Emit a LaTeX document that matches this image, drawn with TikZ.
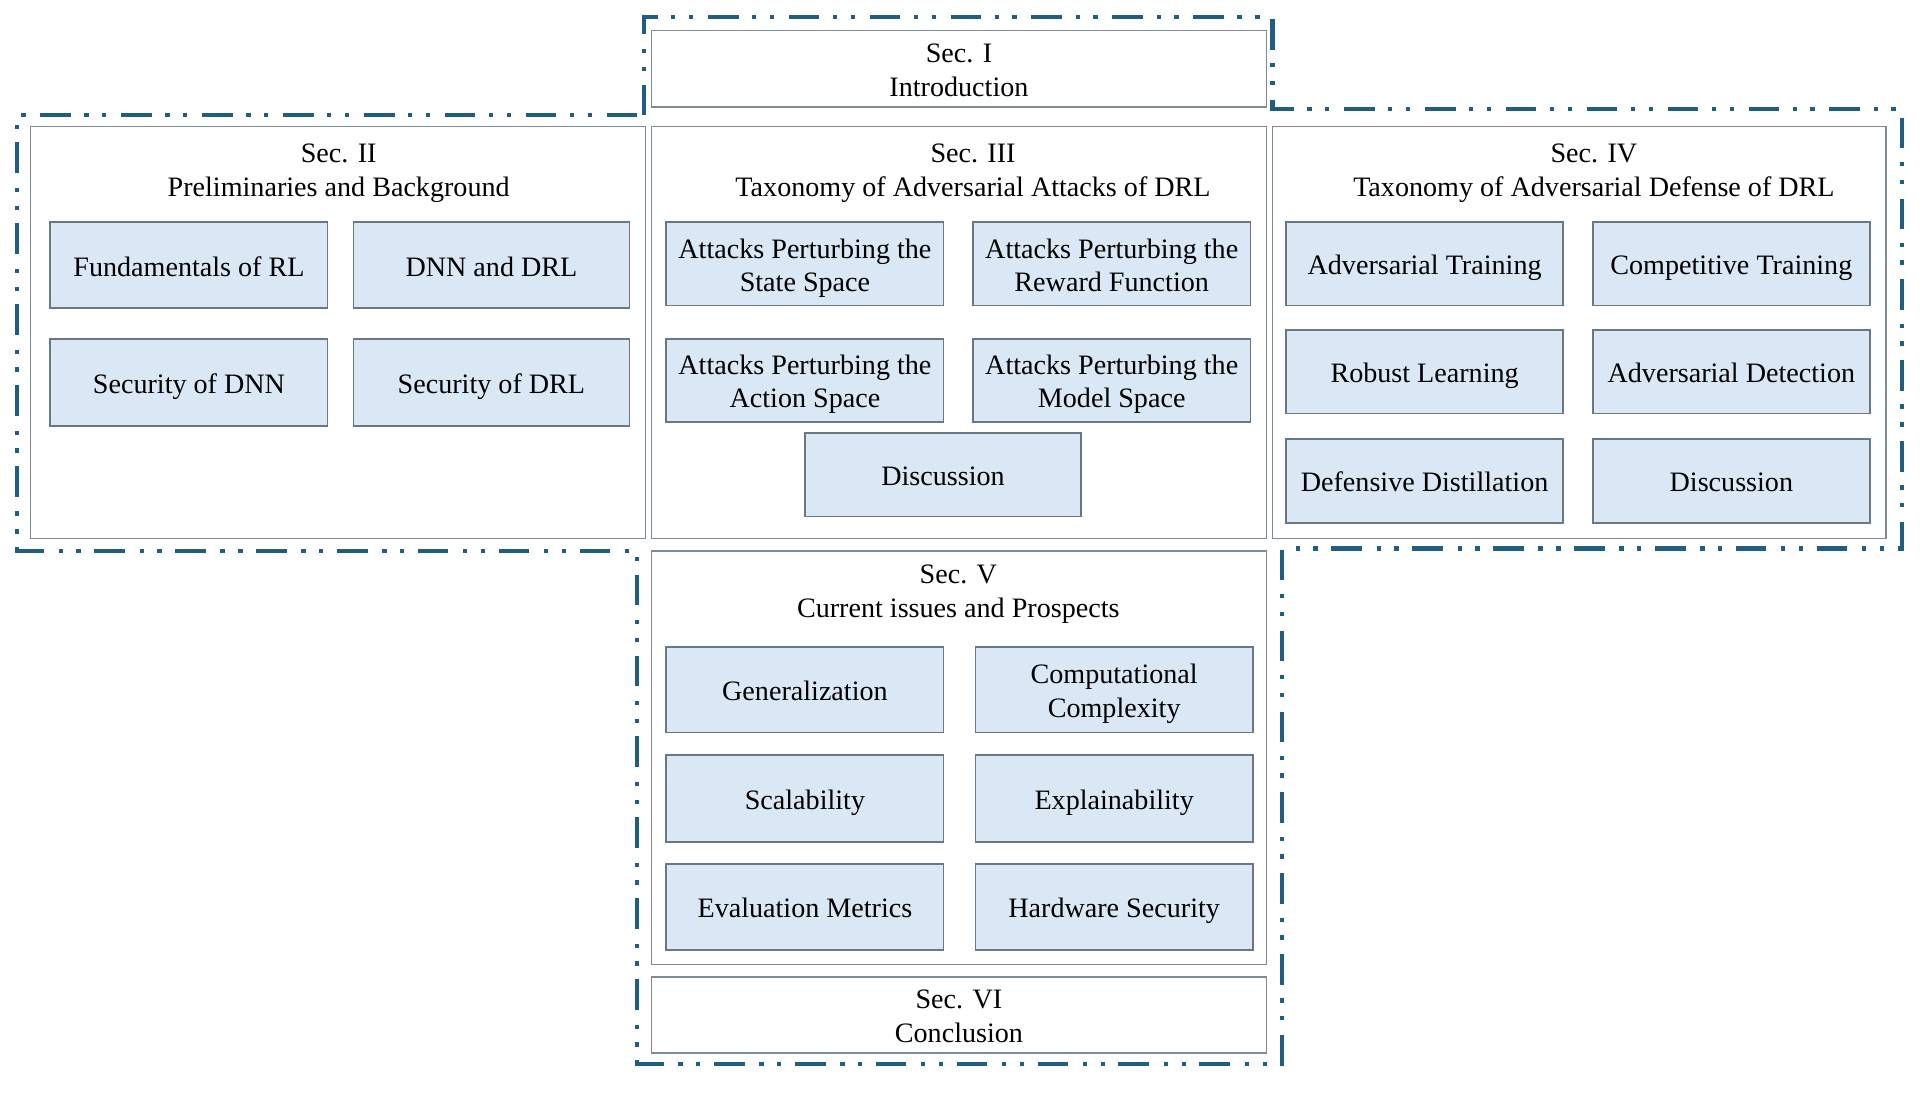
\documentclass[tikz,border=0pt]{standalone}
\usepackage{fontspec}
\setmainfont{Liberation Serif}
\definecolor{dashblue}{RGB}{31,94,128}
\definecolor{subfill}{RGB}{218,232,246}
\definecolor{subdraw}{RGB}{105,120,132}
\definecolor{secdraw}{RGB}{128,138,146}
\newcommand\topstrut{\rule{0pt}{16.5pt}}
\newcommand\botstrut{\rule[-3.8pt]{0pt}{3.8pt}}
\newcommand\mkbox[7]{\node[#1, minimum width={(#5-#3)*0.25mm}, minimum height={(#6-#4)*0.25mm}] (#2) at ({(#3+#5)/2},{(#4+#6)/2}) {\topstrut#7\botstrut};}
\tikzset{
  secbox/.style={draw=secdraw, line width=0.9pt, fill=white, inner sep=0pt, align=center, font=\fontsize{16.3}{19.9}\selectfont},
  subbox/.style={draw=subdraw, line width=1pt, fill=subfill, inner sep=0pt, align=center, font=\fontsize{16.3}{19.3}\selectfont},
  ttl/.style={inner sep=0pt, align=center, font=\fontsize{16.3}{19.9}\selectfont},
  outline/.style={draw=dashblue, line width=2.4pt, dash pattern=on 17.8pt off 7.8pt on 2.5pt off 7.8pt on 2.5pt off 8.5pt}
}
\begin{document}
\begin{tikzpicture}[x=0.25mm, y=-0.25mm]
\useasboundingbox[fill=white] (0,0) rectangle (1568,896);
% outer dash-dot-dot outline
\draw[outline] (525,94) -- (525,14) -- (1037,14) -- (1037,89) -- (1550,89) -- (1550,447) -- (1045,447) -- (1045,867) -- (519,867) -- (519,449) -- (14,449) -- (14,94) -- cycle;
% section boxes
\mkbox{secbox}{s1}{531}{25}{1032}{87}{Sec. I\\Introduction}
\mkbox{secbox}{s2}{25}{103}{526}{439}{}
\mkbox{secbox}{s3}{531}{103}{1032}{439}{}
\mkbox{secbox}{s4}{1037}{103}{1537}{439}{}
\mkbox{secbox}{s5}{531}{449}{1032}{786}{}
\mkbox{secbox}{s6}{531}{796}{1032}{858}{Sec. VI\\Conclusion}
% titles
\node[ttl] (t2) at (276,141) {Sec. II\\Preliminaries and Background};
\node[ttl] (t3) at (793,141) {Sec. III\\Taxonomy of Adversarial Attacks of DRL};
\node[ttl] (t4) at (1299,141) {Sec. IV\\Taxonomy of Adversarial Defense of DRL};
\node[ttl] (t5) at (781,484) {Sec. V\\Current issues and Prospects};
% Sec II
\mkbox{subbox}{a1}{41}{181}{267}{251}{Fundamentals of RL}
\mkbox{subbox}{a2}{288}{181}{513}{251}{DNN and DRL}
\mkbox{subbox}{a3}{41}{276}{267}{347}{Security of DNN}
\mkbox{subbox}{a4}{288}{276}{513}{347}{Security of DRL}
% Sec III
\mkbox{subbox}{b1}{543}{181}{769}{249}{Attacks Perturbing the\\State Space}
\mkbox{subbox}{b2}{793}{181}{1019}{249}{Attacks Perturbing the\\Reward Function}
\mkbox{subbox}{b3}{543}{276}{769}{344}{Attacks Perturbing the\\Action Space}
\mkbox{subbox}{b4}{793}{276}{1019}{344}{Attacks Perturbing the\\Model Space}
\mkbox{subbox}{b5}{656}{353}{881}{421}{Discussion}
% Sec IV
\mkbox{subbox}{c1}{1048}{181}{1274}{249}{Adversarial Training}
\mkbox{subbox}{c2}{1298}{181}{1524}{249}{Competitive Training}
\mkbox{subbox}{c3}{1048}{269}{1274}{337}{Robust Learning}
\mkbox{subbox}{c4}{1298}{269}{1524}{337}{Adversarial Detection}
\mkbox{subbox}{c5}{1048}{358}{1274}{426}{Defensive Distillation}
\mkbox{subbox}{c6}{1298}{358}{1524}{426}{Discussion}
% Sec V
\mkbox{subbox}{d1}{543}{527}{769}{597}{Generalization}
\mkbox{subbox}{d2}{795}{527}{1021}{597}{Computational\\Complexity}
\mkbox{subbox}{d3}{543}{615}{769}{686}{Scalability}
\mkbox{subbox}{d4}{795}{615}{1021}{686}{Explainability}
\mkbox{subbox}{d5}{543}{704}{769}{774}{Evaluation Metrics}
\mkbox{subbox}{d6}{795}{704}{1021}{774}{Hardware Security}
\end{tikzpicture}
\end{document}
